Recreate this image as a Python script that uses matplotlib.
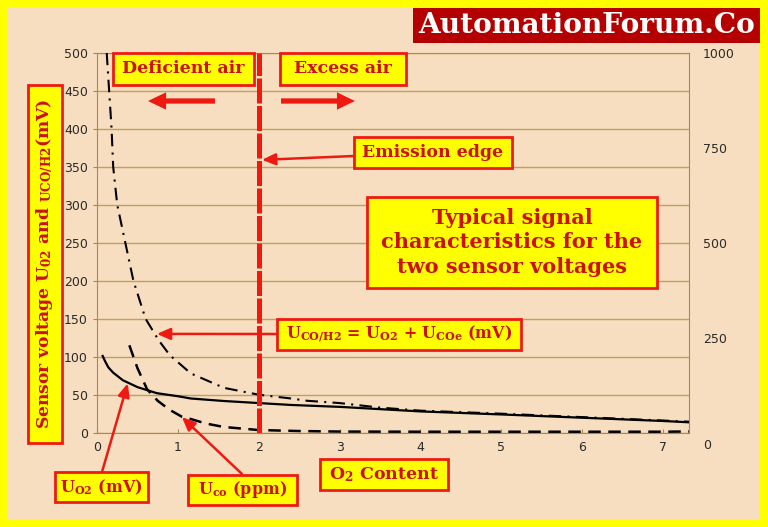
import matplotlib
matplotlib.use("Agg")
import matplotlib.pyplot as plt
from matplotlib.patches import Rectangle
from matplotlib.transforms import ScaledTranslation

# --- data (O2 content in %, signal in mV on the left scale) ---
x_o2 = [0.07, 0.10, 0.14, 0.20, 0.32, 0.50, 0.74, 1.00, 1.16, 1.57, 2.00, 2.40,
        3.00, 3.50, 4.00, 5.00, 6.00, 7.00, 7.32]
u_o2 = [101, 94, 86, 79, 69, 60, 52, 48, 45, 41.7, 39, 36.5,
        34, 31, 28, 24, 19.7, 15.4, 13.7]

x_co = [0.40, 0.50, 0.62, 0.75, 0.90, 1.05, 1.16, 1.35, 1.57, 2.00, 2.50, 3.00,
        4.00, 5.00, 6.00, 7.00, 7.32]
u_co = [115, 85, 57, 42, 30, 21, 18, 12, 7.5, 3.5, 2.2, 1.5,
        1.3, 1.3, 1.3, 1.3, 1.6]

x_sum = [0.12, 0.15, 0.18, 0.20, 0.25, 0.35, 0.45, 0.60, 0.76, 0.90, 1.16, 1.57,
         2.00, 2.40, 2.60, 3.00, 3.50, 4.00, 5.00, 6.00, 7.00, 7.32]
u_sum = [500, 450, 400, 350, 300, 250, 200, 150, 122, 102, 78, 59,
         50, 45, 42, 39, 33, 29, 25, 20.5, 16, 14.5]

emission_edge = 2.0
x_ticks = [0, 1, 2, 3, 4, 5, 6, 7]
left_ticks = [0, 50, 100, 150, 200, 250, 300, 350, 400, 450, 500]
right_ticks = [0, 250, 500, 750, 1000]

RED = "#ee1a12"
TXT = "#cc1111"
YEL = "#ffff00"
TAN = "#bf9f62"
W, H = 768, 527

plt.rcParams["mathtext.fontset"] = "custom"
plt.rcParams["mathtext.rm"] = "DejaVu Serif:bold"
plt.rcParams["mathtext.it"] = "DejaVu Serif:bold"
plt.rcParams["mathtext.bf"] = "DejaVu Serif:bold"


def fx(px):
    return px / W


def fy(py):
    return 1 - py / H


fig = plt.figure(figsize=(W / 100, H / 100), dpi=100, facecolor=YEL)
fig.add_artist(Rectangle((fx(7), fy(520)), fx(753), (513) / H, transform=fig.transFigure,
                         facecolor="#f8dec0", edgecolor="none", zorder=0))

ax = fig.add_axes([fx(97), fy(432.7), fx(592), 380 / H])
ax.set_facecolor("none")
ax.set_xlim(0, 7.32)
ax.set_ylim(0, 500)

ax.plot(x_o2, u_o2, color="black", lw=1.6, zorder=3)
ax.plot(x_co, u_co, color="black", lw=1.8, ls=(0, (5, 3)), zorder=3)
ax.plot(x_sum, u_sum, color="black", lw=1.5, ls=(0, (6, 3, 1, 3)), zorder=3)
ax.axvline(emission_edge, ymin=0, ymax=1, color=RED, lw=3.6, ls=(0, (5, 0.5)), zorder=4)

ax.set_xticks(x_ticks)
ax.set_yticks(left_ticks)
ax.yaxis.grid(True, color=TAN, lw=1)
ax.set_axisbelow(True)
for s in ax.spines.values():
    s.set_color("#a88a50")
ax.tick_params(axis="both", colors="#a88a50", labelcolor="#2a2a2a", labelsize=9,
               length=3)
ax.tick_params(axis="x", direction="in", pad=6)

ax2 = ax.twinx()
ax2.set_ylim(0, 1000)
ax2.set_yticks(right_ticks)
ax2.tick_params(axis="y", length=0, pad=10, labelsize=9, labelcolor="#2a2a2a")
for s in ax2.spines.values():
    s.set_visible(False)
# the right-hand "0" sits a little lower in the original
lbl0 = ax2.get_yticklabels()[0]
lbl0.set_transform(lbl0.get_transform() + ScaledTranslation(0, -0.11, fig.dpi_scale_trans))


def box(x0, y0, x1, y1, text, size=12.5, **kw):
    fig.add_artist(Rectangle((fx(x0), fy(y1)), (x1 - x0) / W, (y1 - y0) / H,
                             transform=fig.transFigure, facecolor=YEL, edgecolor=RED,
                             lw=2, zorder=5))
    fig.text(fx((x0 + x1) / 2), fy((y0 + y1) / 2), text, ha="center", va="center",
             family="DejaVu Serif", weight="bold", color=TXT, size=size, zorder=6, **kw)


def arrow(tail, tip, tip_coords="figure fraction", thick=False):
    if thick:
        style = "simple,head_length=1.3,head_width=1.25,tail_width=0.38"
    else:
        style = "-|>,head_length=0.8,head_width=0.35"
    ax.annotate("", xy=tip, xycoords=tip_coords, xytext=(fx(tail[0]), fy(tail[1])),
                textcoords="figure fraction",
                arrowprops=dict(arrowstyle=style, color=RED, lw=0 if thick else 1.8,
                                mutation_scale=10, shrinkA=0, shrinkB=0),
                annotation_clip=False, zorder=5)


box(113, 53, 254, 85, "Deficient air")
box(280, 53, 406, 85, "Excess air")
box(354, 137, 512, 168, "Emission edge")
box(367, 197, 657, 288, "Typical signal\ncharacteristics for the\ntwo sensor voltages",
    size=15, linespacing=1.3)
box(277, 319, 521, 350, r"U$_{\mathrm{CO/H2}}$ = U$_{\mathrm{O2}}$ + U$_{\mathrm{COe}}$ (mV)",
    size=11.4)
box(55, 472, 148, 502, r"U$_{\mathrm{O2}}$ (mV)", size=11.5)
box(188, 475, 297, 505, r"U$_{\mathrm{co}}$ (ppm)", size=11.5)
box(320, 459, 448, 490, r"O$_{\mathrm{2}}$ Content")
box(28, 85, 62, 443, r"Sensor voltage U$_{\mathrm{02}}$ and $_{\mathrm{UCO/H2}}$(mV)",
    size=12.3, rotation=90)

arrow((215, 101), (fx(148), fy(101)), thick=True)
arrow((281, 101), (fx(355), fy(101)), thick=True)
arrow((354, 156), (2.04, 359), tip_coords="data")
arrow((277, 334), (0.74, 130), tip_coords="data")
arrow((102, 472), (0.38, 65), tip_coords="data")
arrow((242, 474), (1.05, 20.5), tip_coords="data")

# watermark
fig.add_artist(Rectangle((fx(413), fy(43)), 347 / W, 35 / H, transform=fig.transFigure,
                         facecolor="#b40000", edgecolor="none", zorder=5))
fig.text(fx(586.5), fy(25.5), "AutomationForum.Co", ha="center", va="center",
         family="DejaVu Serif", weight="bold", color="white", size=20.2, zorder=6)

fig.savefig("out.png", dpi=100, facecolor=YEL)
